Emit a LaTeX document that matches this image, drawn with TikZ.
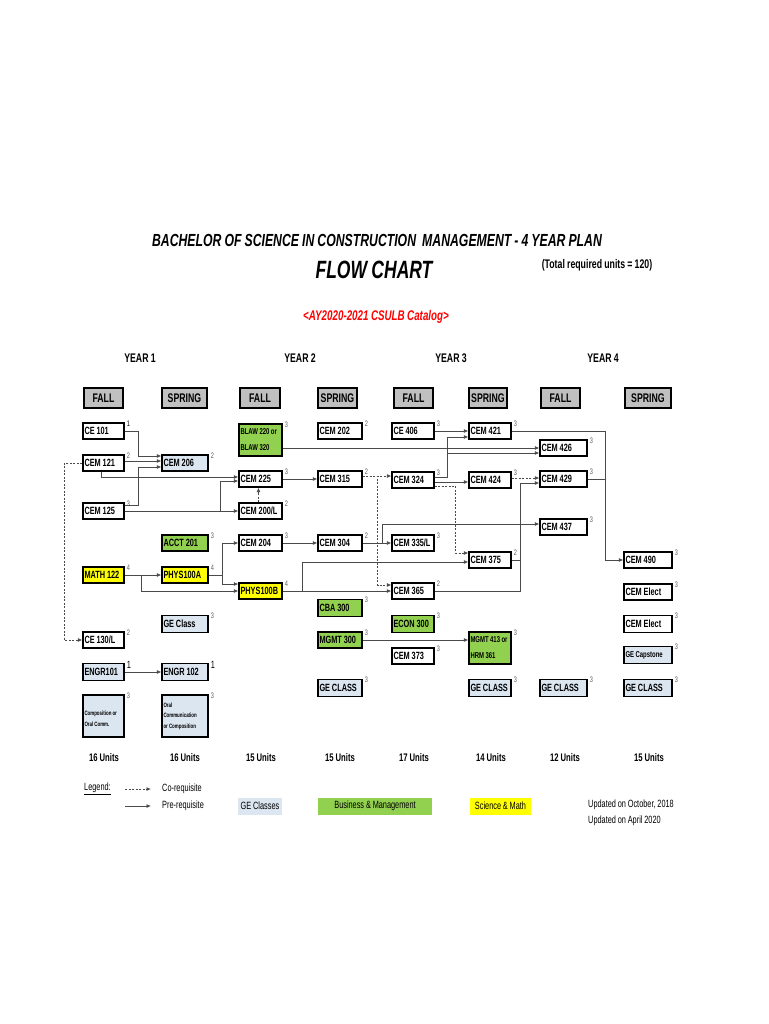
\documentclass[tikz,border=0pt]{standalone}
\usepackage{fontspec}
\setmainfont{Liberation Sans}[FakeStretch=0.7,WordSpace=0.9]
\usetikzlibrary{arrows.meta}
\definecolor{geblue}{HTML}{DCE6F1}
\definecolor{bmgreen}{HTML}{92D050}
\definecolor{smyellow}{HTML}{FFFF00}
\definecolor{hdrgray}{HTML}{C0C0C0}
\definecolor{unitgray}{HTML}{606060}
\definecolor{linegray}{HTML}{4A4A4A}
\definecolor{titlered}{HTML}{FF0000}
\tikzset{
  crs/.style={draw=black, line width=1.2pt, rectangle, inner xsep=1.5pt, inner ysep=0pt,
    align=flush left, font=\bfseries\fontsize{10.5}{11}\selectfont, fill=white},
  wh/.style={fill=white},
  ge/.style={fill=geblue},
  bm/.style={fill=bmgreen},
  sm/.style={fill=smyellow},
  twoline/.style={font=\bfseries\fontsize{8.5}{16}\selectfont},
  tiny3/.style={font=\bfseries\fontsize{6.3}{10.5}\selectfont},
  capst/.style={font=\bfseries\fontsize{8.5}{9}\selectfont},
  unitl/.style={anchor=north west, inner sep=0pt, xshift=2pt, yshift=2pt,
    font=\fontsize{8}{8}\selectfont, text=unitgray},
  bigunit/.style={font=\fontsize{10.5}{10.5}\selectfont, text=black},
  hdr/.style={draw=black, line width=1.3pt, fill=hdrgray, minimum height=20pt, inner sep=0pt,
    font=\bfseries\fontsize{12.5}{12.5}\selectfont},
  yearlbl/.style={font=\bfseries\fontsize{12.5}{12.5}\selectfont},
  unitsum/.style={font=\bfseries\fontsize{11}{11}\selectfont},
  lgtext/.style={anchor=west, inner sep=0pt, font=\fontsize{10.5}{10.5}\selectfont},
  lgbox/.style={minimum height=17pt, inner sep=0pt, font=\fontsize{10.5}{10.5}\selectfont},
  conn/.style={draw=linegray, line width=0.8pt},
  prereq/.style={conn, -{Latex[length=4.5pt,width=4pt]}},
  coreq/.style={prereq, dash pattern=on 2pt off 1.5pt},
  link/.style={conn}
}
% #1 name, #2 left x, #3 right x, #4 center y, #5 height, #6 style, #7 text, #8 units, #9 unit style
\newcommand\course[9]{%
  \pgfmathsetmacro\cw{#3-#2}%
  \pgfmathsetmacro\tw{#3-#2-3}%
  \pgfmathsetmacro\cx{(#2+#3)/2}%
  \node[crs,#6,minimum width=\cw pt,minimum height=#5pt,text width=\tw pt] (#1) at (\cx,#4) {#7};
  \node[unitl,#9] (#1u) at (#1.north east) {#8};
}
\begin{document}
\begin{tikzpicture}[x=1pt,y=-1pt]
\useasboundingbox (0,0) rectangle (768,1024);

% titles
\node[font=\bfseries\itshape\fontsize{17.5}{17.5}\selectfont] (title) at (377,240)
  {BACHELOR OF SCIENCE IN CONSTRUCTION\ \ MANAGEMENT - 4 YEAR PLAN};
\node[font=\bfseries\itshape\fontsize{25}{25}\selectfont] (flow) at (374,270) {FLOW CHART};
\node[font=\bfseries\fontsize{12.5}{12.5}\selectfont] (total) at (597,265) {(Total required units = 120)};
\node[font=\bfseries\itshape\fontsize{14}{14}\selectfont, text=titlered] (catalog) at (376,317)
  {<AY2020-2021 CSULB Catalog>};

% year labels
\node[yearlbl] (y1) at (140,358) {YEAR 1};
\node[yearlbl] (y2) at (300,358) {YEAR 2};
\node[yearlbl] (y3) at (451,358) {YEAR 3};
\node[yearlbl] (y4) at (603,358) {YEAR 4};

% semester headers
\node[hdr, minimum width=39pt] (h1) at (103.5,398) {FALL};
\node[hdr, minimum width=45pt] (h2) at (184.5,398) {SPRING};
\node[hdr, minimum width=40pt] (h3) at (260,398) {FALL};
\node[hdr, minimum width=39pt] (h4) at (337.5,398) {SPRING};
\node[hdr, minimum width=39pt] (h5) at (413.5,398) {FALL};
\node[hdr, minimum width=38pt] (h6) at (488,398) {SPRING};
\node[hdr, minimum width=39pt] (h7) at (560.5,398) {FALL};
\node[hdr, minimum width=46pt] (h8) at (648,398) {SPRING};

% Column 1
\course{ce101}{83}{124}{431}{16}{wh}{CE 101}{1}{text=black}
\course{cem121}{83}{124}{463}{16}{wh}{CEM 121}{2}{}
\course{cem125}{83}{124}{511}{16}{wh}{CEM 125}{3}{}
\course{math122}{83}{124}{575}{16}{sm}{MATH 122}{4}{}
\course{ce130}{83}{124}{640}{16}{wh}{CE 130/L}{2}{}
\course{engr101}{83}{124}{672}{17}{ge}{ENGR101}{1}{bigunit}
\course{comp}{83}{124}{716}{42}{ge,tiny3}{\mbox{}\\Composition or\\Oral Comm.}{3}{}
% Column 2
\course{cem206}{162}{208}{463}{16}{ge}{CEM 206}{2}{}
\course{acct201}{162}{208}{543}{16}{bm}{ACCT 201}{3}{}
\course{phys100a}{162}{208}{575}{16}{sm}{PHYS100A}{4}{}
\course{gec2}{162}{208}{624}{17}{ge}{GE Class}{3}{}
\course{engr102}{162}{208}{672}{17}{ge}{ENGR 102}{1}{bigunit}
\course{oral}{162}{208}{716}{42}{ge,tiny3}{Oral\\Communication\\or Composition}{3}{}
% Column 3
\course{blaw}{239}{282}{440}{32}{bm,twoline}{BLAW 220 or\\BLAW 320}{3}{}
\course{cem225}{239}{282}{479}{16}{wh}{CEM 225}{3}{}
\course{cem200}{239}{282}{511}{16}{wh}{CEM 200/L}{2}{}
\course{cem204}{239}{282}{543}{16}{wh}{CEM 204}{3}{}
\course{phys100b}{239}{282}{591}{16}{sm}{PHYS100B}{4}{}
% Column 4
\course{cem202}{318}{362}{431}{16}{wh}{CEM 202}{2}{}
\course{cem315}{318}{362}{479}{16}{wh}{CEM 315}{2}{}
\course{cem304}{318}{362}{543}{16}{wh}{CEM 304}{2}{}
\course{cba300}{318}{362}{608}{17}{bm}{CBA 300}{3}{}
\course{mgmt300}{318}{362}{640}{16}{bm}{MGMT 300}{3}{}
\course{gec4}{318}{362}{688}{17}{ge}{GE CLASS}{3}{}
% Column 5
\course{ce406}{392}{434}{431}{16}{wh}{CE 406}{3}{}
\course{cem324}{392}{434}{480}{16}{wh}{CEM 324}{3}{}
\course{cem335}{392}{434}{543}{16}{wh}{CEM 335/L}{3}{}
\course{cem365}{392}{434}{591}{16}{wh}{CEM 365}{2}{}
\course{econ300}{392}{434}{624}{17}{bm}{ECON 300}{3}{}
\course{cem373}{392}{434}{656}{16}{wh}{CEM 373}{3}{}
% Column 6
\course{cem421}{469}{511}{431}{16}{wh}{CEM 421}{3}{}
\course{cem424}{469}{511}{480}{16}{wh}{CEM 424}{3}{}
\course{cem375}{469}{511}{560}{16}{wh}{CEM 375}{2}{}
\course{mgmt413}{469}{511}{648}{32}{bm,twoline}{MGMT 413 or\\HRM 361}{3}{}
\course{gec6}{469}{511}{688}{17}{ge}{GE CLASS}{3}{}
% Column 7
\course{cem426}{540}{587}{448}{16}{wh}{CEM 426}{3}{}
\course{cem429}{540}{587}{479}{16}{wh}{CEM 429}{3}{}
\course{cem437}{540}{587}{527}{16}{wh}{CEM 437}{3}{}
\course{gec7}{540}{587}{688}{17}{ge}{GE CLASS}{3}{}
% Column 8
\course{cem490}{624}{672}{560}{16}{wh}{CEM 490}{3}{}
\course{elect1}{624}{672}{592}{16}{wh}{CEM Elect}{3}{}
\course{elect2}{624}{672}{624}{17}{wh}{CEM Elect}{3}{}
\course{capstone}{624}{672}{655}{17}{ge,capst}{GE Capstone}{3}{}
\course{gec8}{624}{672}{688}{17}{ge}{GE CLASS}{3}{}

% ---------- connectors ----------
% Year 1 -> CEM 206
\draw[prereq] (ce101.east) -- ++(14,0) |- ([yshift=7pt]cem206.west);
\draw[prereq] ([yshift=2pt]cem121.east) -- ([yshift=2pt]cem206.west);
\draw[prereq] ([yshift=6pt]cem125.east) -- ++(14,0) |- ([yshift=-4pt]cem206.west);
% to CEM 225 / CEM 200L
\draw[prereq] ([xshift=-2.5pt]cem121.south) |- ([yshift=2pt]cem225.west);
\draw[prereq] (cem125.east) -- (cem200.west);
\draw[prereq] (cem125.east) -- ++(96,0) |- ([yshift=-2pt]cem225.west);
\draw[coreq] ([xshift=-2pt]cem200.north) -- ([xshift=-2pt]cem225.south);
% co-requisite CEM 121 -> CE 130/L
\draw[coreq] (cem121.west) -- ++(-18,0) |- (ce130.west);
% math/physics
\draw[prereq] (math122.east) -- (phys100a.west);
\draw[prereq] (math122.east) -- ++(17,0) |- (phys100b.west);
\draw[prereq] (phys100a.east) -- ++(14,0) |- (cem204.west);
\draw[prereq] (phys100a.east) -- ++(14,0) |- ([yshift=7pt]phys100b.west);
\draw[prereq] (engr101.east) -- (engr102.west);
% Year 2
\draw[prereq] (cem225.east) -- (cem315.west);
\draw[prereq] (cem204.east) -- (cem304.west);
\draw[prereq] ([yshift=-8pt]blaw.east) -- (cem426.west);
\draw[prereq] (phys100b.east) -- (cem365.west);
\draw[prereq] (phys100b.east) -- ++(20,0) |- ([yshift=-2pt]cem375.west);
\draw[coreq] ([yshift=3pt]cem315.east) -- ([yshift=4pt]cem324.west);
\draw[coreq] ([yshift=3pt]cem315.east) -- ++(15,0) |- ([yshift=6pt]cem365.west);
\draw[prereq] (cem304.east) -- (cem335.west);
\draw[prereq] (cem304.east) -- ++(20,0) |- ([yshift=3pt]cem437.west);
\draw[prereq] (mgmt300.east) -- ([yshift=8pt]mgmt413.west);
% Year 3
\draw[prereq] (ce406.east) -- (cem421.west);
\draw[prereq] ([yshift=3pt]cem324.east) -- ++(13,0) |- ([yshift=-6pt]cem421.west);
\draw[prereq] ([yshift=3pt]cem324.east) -- ++(13,0) |- ([yshift=-5pt]cem426.west);
\draw[prereq] ([yshift=-2pt]cem324.east) -- ([yshift=-2pt]cem424.west);
\draw[coreq] ([yshift=-6pt]cem324.east) -- ++(21,0) |- ([yshift=7pt]cem375.west);
\draw[coreq] ([yshift=2pt]cem424.east) -- ([yshift=1pt]cem429.west);
\draw[prereq] (cem365.east) -- ++(86,0) |- ([yshift=-4pt]cem429.west);
\draw[link] (cem375.east) -- ++(9,0);
% Year 4
\draw[prereq] (cem421.east) -- ++(94,0) |- (cem490.west);
\draw[link] (cem429.east) -- ++(18,0);

% units per semester
\node[unitsum] (s1) at (104,758) {16 Units};
\node[unitsum] (s2) at (185,758) {16 Units};
\node[unitsum] (s3) at (261,758) {15 Units};
\node[unitsum] (s4) at (340,758) {15 Units};
\node[unitsum] (s5) at (414,758) {17 Units};
\node[unitsum] (s6) at (491,758) {14 Units};
\node[unitsum] (s7) at (565,758) {12 Units};
\node[unitsum] (s8) at (649,758) {15 Units};

% legend
\node[lgtext] (lg) at (84,789) {\underline{Legend:}};
\coordinate (la1) at (125,789);
\coordinate (la2) at (151,789);
\coordinate (lb1) at (125,806);
\coordinate (lb2) at (151,806);
\draw[coreq] (la1) -- (la2);
\draw[prereq] (lb1) -- (lb2);
\node[lgtext] (lgco) at (162,789) {Co-requisite};
\node[lgtext] (lgpre) at (162,806) {Pre-requisite};
\node[lgbox, fill=geblue, minimum width=44pt] (lgge) at (260,806) {GE Classes};
\node[lgbox, fill=bmgreen, minimum width=114pt] (lgbm) at (375,806) {Business \& Management};
\node[lgbox, fill=smyellow, minimum width=61pt] (lgsm) at (500.5,806) {Science \& Math};
\node[lgtext] (upd1) at (588,805) {Updated on October, 2018};
\node[lgtext] (upd2) at (588,821) {Updated on April 2020};
\end{tikzpicture}
\end{document}
